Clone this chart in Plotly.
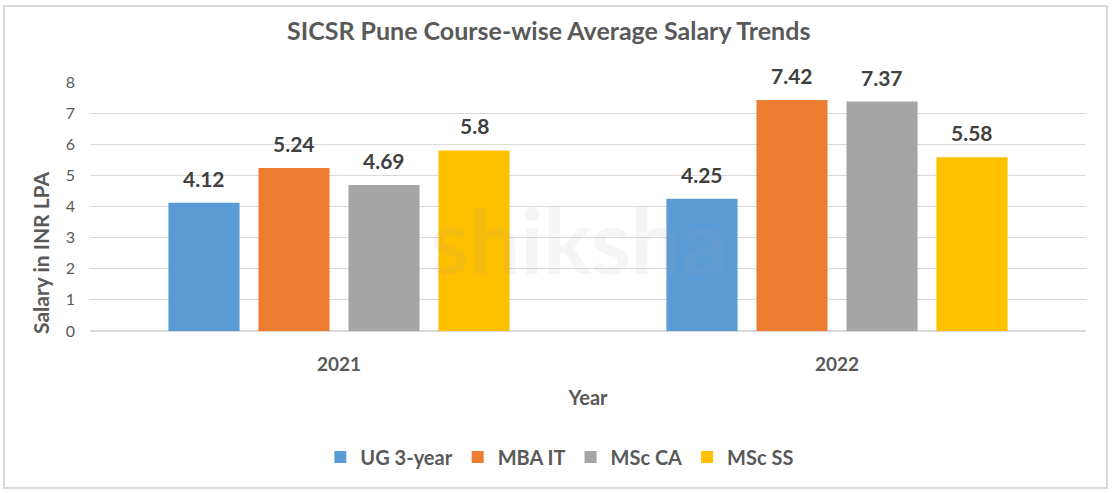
import plotly.graph_objects as go

years = ["2021", "2022"]
series_names = ["UG 3-year", "MBA IT", "MSc CA", "MSc SS"]
ug_3year = [4.12, 4.25]
mba_it = [5.24, 7.42]
msc_ca = [4.69, 7.37]
msc_ss = [5.8, 5.58]
colors = ["#5B9BD5", "#ED7D31", "#A5A5A5", "#FFC000"]
y_ticks = [0, 1, 2, 3, 4, 5, 6, 7, 8]

FONT = "Lato, 'Open Sans', sans-serif"
BARGAP = 0.277
BARGROUPGAP = 0.21

all_series = [ug_3year, mba_it, msc_ca, msc_ss]

fig = go.Figure()
for name, vals, col in zip(series_names, all_series, colors):
    fig.add_trace(go.Bar(
        x=years, y=vals, name=name, marker=dict(color=col, line=dict(width=0)),
    ))

# data labels placed via the category axis
n = len(all_series)
slot = (1 - BARGAP) / n
for k, vals in enumerate(all_series):
    for i, v in enumerate(vals):
        fig.add_annotation(
            x=i + (k - (n - 1) / 2) * slot, y=v, xref="x", yref="y",
            text=f"<b>{v:g}</b>", showarrow=False, yanchor="bottom", yshift=10,
            font=dict(family=FONT, size=21, color="#404040"),
        )

fig.update_layout(
    width=1113, height=493,
    margin=dict(l=90, r=27, t=82, b=162),
    paper_bgcolor="white", plot_bgcolor="white",
    barmode="group", bargap=BARGAP, bargroupgap=BARGROUPGAP,
    font=dict(family=FONT, color="#595959"),
    title=dict(text="<b>SICSR Pune Course-wise Average Salary Trends</b>",
               x=0.493, xanchor="center", y=0.937, yanchor="middle",
               font=dict(family=FONT, size=25, color="#595959")),
    showlegend=True,
    legend=dict(orientation="h", xref="container", yref="container",
                x=0.503, xanchor="center", y=0.073, yanchor="middle",
                font=dict(family=FONT, size=20, color="#595959", weight="bold"),
                itemwidth=30, traceorder="normal"),
    xaxis=dict(showline=False, ticks="", ticklabelstandoff=20,
               tickfont=dict(family=FONT, size=19, color="#595959", weight="bold"),
               title=dict(text="<b>Year</b>", font=dict(family=FONT, size=20, color="#595959"), standoff=16)),
    yaxis=dict(range=[0, 8], tickvals=y_ticks, showgrid=True, gridcolor="#D9D9D9", gridwidth=1,
               zeroline=True, zerolinecolor="#D9D9D9", ticks="", ticklabelstandoff=14,
               tickfont=dict(family=FONT, size=16, color="#595959")),
)

# y-axis title (positioned as in the reference, slightly below plot centre)
fig.add_annotation(text="<b>Salary in INR LPA</b>", xref="paper", yref="paper",
                   x=-50 / 996, y=78 / 249, textangle=-90, showarrow=False,
                   xanchor="center", yanchor="middle",
                   font=dict(family=FONT, size=21, color="#595959"))

# watermark
fig.add_annotation(text="<b>shiksha</b>", xref="paper", yref="paper", x=0.49, y=0.15,
                   showarrow=False, borderpad=0,
                   font=dict(family=FONT, size=90, color="rgba(160,160,160,0.10)"))

# chart border
fig.add_shape(type="rect", xref="paper", yref="paper",
              x0=-86 / 996, x1=1017 / 996, y0=-157 / 249, y1=325 / 249,
              line=dict(color="#D9D9D9", width=2), fillcolor="rgba(0,0,0,0)", layer="below")

fig.write_html("out.html")
